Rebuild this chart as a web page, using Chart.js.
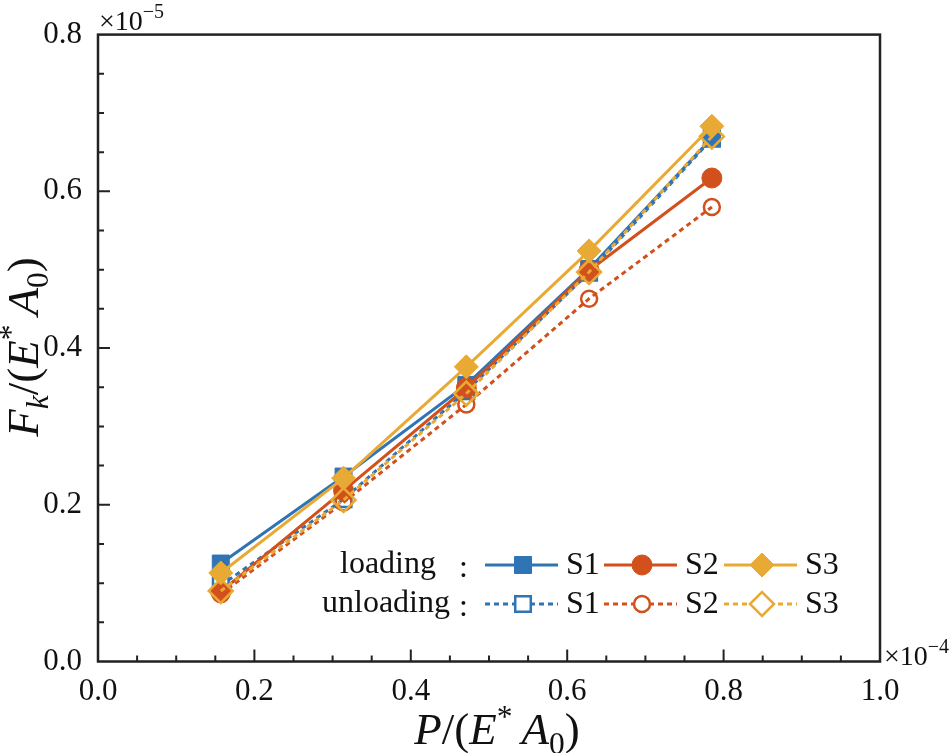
<!DOCTYPE html>
<html>
<head>
<meta charset="utf-8">
<script src="https://cdn.jsdelivr.net/npm/chart.js@4.4.0/dist/chart.umd.min.js"></script>
<style>
html, body { margin: 0; padding: 0; background: #fff; }
#wrap { width: 952px; height: 753px; }
</style>
</head>
<body>
<div id="wrap"><canvas id="myChart"></canvas></div>
<script>
'use strict';

// P/(E*A0) in units of 1e-4, Fk/(E*A0) in units of 1e-5
const xVals = [0.157, 0.314, 0.471, 0.628, 0.785];
const s1Load = [0.125, 0.236, 0.353, 0.501, 0.668];
const s2Load = [0.089, 0.218, 0.349, 0.499, 0.617];
const s3Load = [0.113, 0.234, 0.376, 0.524, 0.683];
const s1Unload = [0.097, 0.207, 0.345, 0.496, 0.667];
const s2Unload = [0.086, 0.203, 0.328, 0.463, 0.580];
const s3Unload = [0.090, 0.206, 0.342, 0.497, 0.670];
const seriesNames = ['S1', 'S2', 'S3'];
const rowNames = ['loading', 'unloading'];
const xTicks = [0, 0.2, 0.4, 0.6, 0.8, 1.0];
const xTickLabels = ['0.0', '0.2', '0.4', '0.6', '0.8', '1.0'];
const yTicks = [0, 0.2, 0.4, 0.6, 0.8];
const yTickLabels = ['0.0', '0.2', '0.4', '0.6', '0.8'];

const blue = '#2F74B5';
const orange = '#D2501C';
const yellow = '#E8AA35';
const serif = '"Liberation Serif", "DejaVu Serif", serif';

function pts(ys) {
    return ys.map(function(y, i){ return {x: xVals[i], y: y}; });
}

function series(label, ys, color, dashed, style, radius) {
    return {
        label: label,
        data: pts(ys),
        showLine: true,
        borderColor: color,
        borderWidth: 3,
        borderDash: dashed ? [5, 4] : [],
        pointStyle: style,
        pointRadius: radius,
        pointHoverRadius: radius,
        pointBorderColor: color,
        pointBackgroundColor: dashed ? 'rgba(0,0,0,0)' : color,
        pointBorderWidth: dashed ? 2.5 : 1,
    };
}

// dataset 0 is drawn on top
const datasets = [
    series('S3 unloading', s3Unload, yellow, true, 'rectRot', 12),
    series('S3 loading', s3Load, yellow, false, 'rectRot', 12),
    series('S2 unloading', s2Unload, orange, true, 'circle', 8),
    series('S2 loading', s2Load, orange, false, 'circle', 10),
    series('S1 unloading', s1Unload, blue, true, 'rect', 11),
    series('S1 loading', s1Load, blue, false, 'rect', 12),
];

function richText(ctx, parts, size, cx, baseline) {
    let total = 0;
    parts.forEach(function(p){
        ctx.font = (p[1] ? 'italic ' : '') + (size * p[3]) + 'px ' + serif;
        total += ctx.measureText(p[0]).width;
    });
    let x = cx - total / 2;
    ctx.textAlign = 'left';
    ctx.textBaseline = 'alphabetic';
    parts.forEach(function(p){
        ctx.font = (p[1] ? 'italic ' : '') + (size * p[3]) + 'px ' + serif;
        ctx.fillText(p[0], x, baseline + p[2] * size);
        x += ctx.measureText(p[0]).width;
    });
}

function exponent(ctx, x, baseline, power) {
    ctx.textAlign = 'left';
    ctx.textBaseline = 'alphabetic';
    ctx.font = '28px ' + serif;
    ctx.fillText('\u00d710', x, baseline);
    const w = ctx.measureText('\u00d710').width;
    ctx.font = '20px ' + serif;
    ctx.fillText('\u2212' + power, x + w, baseline - 12);
}

const decorations = {
    id: 'decorations',
    afterDraw: function(chart) {
        const ctx = chart.ctx;
        const a = chart.chartArea;
        const xs = chart.scales.x;
        const ys = chart.scales.y;
        ctx.save();
        ctx.strokeStyle = '#222';
        ctx.fillStyle = '#111';
        ctx.lineWidth = 2.5;
        ctx.strokeRect(a.left, a.top, a.right - a.left, a.bottom - a.top);

        // inward ticks, minor every 0.05
        ctx.lineWidth = 2;
        ctx.beginPath();
        for (let i = 1; i < 20; i++) {
            const px = xs.getPixelForValue(i * 0.05);
            const len = i % 4 === 0 ? 12 : 6;
            ctx.moveTo(px, a.bottom);
            ctx.lineTo(px, a.bottom - len);
        }
        for (let i = 1; i < 16; i++) {
            const py = ys.getPixelForValue(i * 0.05);
            const len = i % 4 === 0 ? 12 : 6;
            ctx.moveTo(a.left, py);
            ctx.lineTo(a.left + len, py);
        }
        ctx.stroke();

        exponent(ctx, a.left + 1, a.top - 5, 5);
        exponent(ctx, a.right + 4, a.bottom + 3, 4);

        // axis titles
        richText(ctx, [['P', 1, 0, 1], ['/(', 0, 0, 1], ['E', 1, 0, 1], ['*', 0, -0.38, 0.7],
            ['\u2009', 0, 0, 1], ['A', 1, 0, 1], ['0', 0, 0.22, 0.7], [')', 0, 0, 1]], 45, 497, 744);
        ctx.save();
        ctx.translate(38, 347);
        ctx.rotate(-Math.PI / 2);
        richText(ctx, [['F', 1, 0, 1], ['k', 1, 0.22, 0.7], ['/(', 0, 0, 1], ['E', 1, 0, 1], ['*', 0, -0.38, 0.7],
            ['\u2009', 0, 0, 1], ['A', 1, 0, 1], ['0', 0, 0.22, 0.7], [')', 0, 0, 1]], 45, 0, 0);
        ctx.restore();

        // legend
        const rowY = [565, 604];
        const rowX = [340, 322];
        const starts = [485, 604, 724];
        rowNames.forEach(function(name, r){
            ctx.font = '32px ' + serif;
            ctx.textAlign = 'left';
            ctx.textBaseline = 'middle';
            ctx.fillStyle = '#111';
            ctx.fillText(name, rowX[r], rowY[r]);
            ctx.fillText(':', 459, rowY[r] + 4);
            seriesNames.forEach(function(s, j){
                const ds = datasets.find(function(d){ return d.label === s + ' ' + name; });
                const x0 = starts[j];
                const y = rowY[r];
                ctx.save();
                ctx.strokeStyle = ds.borderColor;
                ctx.lineWidth = ds.borderWidth;
                ctx.setLineDash(ds.borderDash);
                ctx.beginPath();
                ctx.moveTo(x0, y);
                ctx.lineTo(x0 + 73, y);
                ctx.stroke();
                ctx.setLineDash([]);
                ctx.fillStyle = r === 1 ? '#fff' : ds.pointBackgroundColor;
                ctx.strokeStyle = ds.pointBorderColor;
                ctx.lineWidth = ds.pointBorderWidth;
                Chart.helpers.drawPoint(ctx, {
                    pointStyle: ds.pointStyle,
                    radius: ds.pointRadius,
                    rotation: 0,
                    borderWidth: ds.pointBorderWidth,
                }, x0 + 38, y);
                ctx.restore();
                ctx.font = '32px ' + serif;
                ctx.fillStyle = '#111';
                ctx.textBaseline = 'middle';
                ctx.fillText(s, x0 + 81, y + 1);
            });
        });
        ctx.restore();
    }
};

const chart = document.getElementById('myChart');
const myChart = new Chart(chart, {
    type: 'scatter',
    data: { datasets: datasets },
    options: {
        responsive: true,
        maintainAspectRatio: false,
        animation: false,
        events: [],
        layout: { padding: { top: 31, right: 72, left: 0, bottom: 0 } },
        plugins: { legend: { display: false }, tooltip: { enabled: false } },
        scales: {
            x: {
                type: 'linear',
                min: 0,
                max: 1,
                grid: { display: false, drawTicks: false },
                border: { display: false },
                afterBuildTicks: function(s){ s.ticks = xTicks.map(function(v){ return {value: v}; }); },
                afterFit: function(s){ s.height = 91.5; },
                ticks: {
                    padding: 12,
                    maxRotation: 0,
                    autoSkip: false,
                    color: '#111',
                    font: { family: serif, size: 31 },
                    callback: function(v, i){ return xTickLabels[i]; },
                },
            },
            y: {
                type: 'linear',
                min: 0,
                max: 0.8,
                grid: { display: false, drawTicks: false },
                border: { display: false },
                afterBuildTicks: function(s){ s.ticks = yTicks.map(function(v){ return {value: v}; }); },
                afterFit: function(s){ s.width = 98; },
                ticks: {
                    padding: 16,
                    autoSkip: false,
                    color: '#111',
                    font: { family: serif, size: 31 },
                    callback: function(v, i){ return yTickLabels[i]; },
                },
            },
        },
    },
    plugins: [decorations],
});
</script>
</body>
</html>
